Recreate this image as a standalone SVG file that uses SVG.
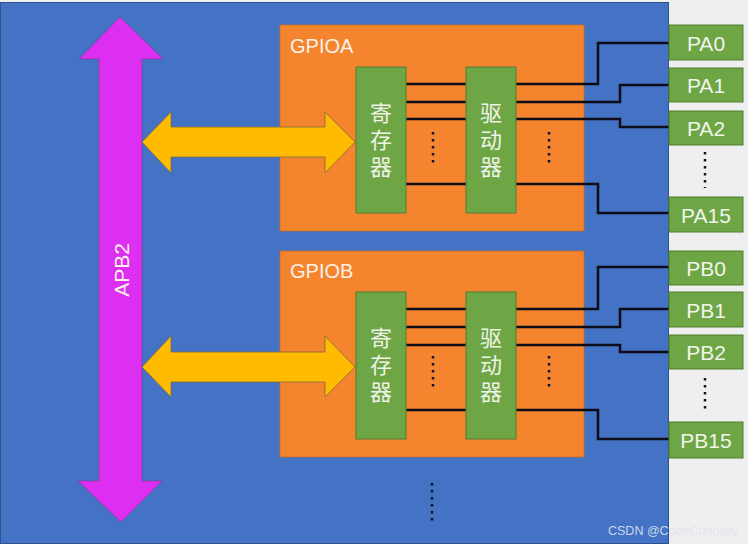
<svg xmlns="http://www.w3.org/2000/svg" width="748" height="544" viewBox="0 0 748 544">
<style>
.bg{fill:#4472c4;stroke:#2f528f;stroke-width:1}
.gpio{fill:#f4852e;stroke:#c96a20;stroke-width:0.8}
.blk{fill:#6ea545;stroke:#507e30;stroke-width:1}
.pin{fill:#6ea545;stroke:#507e30;stroke-width:1}
.t{font-family:"Liberation Sans","Noto Sans",sans-serif;fill:#fbf1e6}
.cj{font-family:"Noto Sans CJK SC",sans-serif;font-size:22px;fill:#eef3e8;text-anchor:middle;writing-mode:vertical-rl;letter-spacing:5px}
.pt{font-family:"Liberation Sans","Noto Sans",sans-serif;font-size:21px;fill:#f1f5ec;text-anchor:middle;dominant-baseline:central}
.w{fill:none;stroke:#0d0d1a;stroke-width:2.5}
.dot{fill:none;stroke:#10122a;stroke-width:2.5;stroke-dasharray:2.5 4.5}
.ya{fill:#ffbb00;stroke:#7f6a40;stroke-width:0.8}
.ma{fill:#dc2ff2;stroke:#8a3aa0;stroke-width:0.8}
</style>
<rect x="0" y="0" width="748" height="544" fill="#efefef"/>
<rect class="bg" x="0.5" y="2.5" width="668" height="541"/>

<g id="gpioa">
<rect class="gpio" x="280" y="25" width="304" height="206"/>
<text class="t" x="290" y="53" font-size="20">GPIOA</text>
</g>
<g id="gpiob">
<rect class="gpio" x="280" y="251" width="304" height="206"/>
<text class="t" x="290" y="278" font-size="20">GPIOB</text>
</g>

<g id="apb2">
<polygon class="ma" points="120,17 163,59 142,59 142,481 162,481 121,522 78,481 99,481 99,59 79,59"/>
<text class="t" x="0" y="0" font-size="21" text-anchor="middle" dominant-baseline="central" transform="translate(121 270) rotate(-90)">APB2</text>
</g>

<g id="connectors">
<polygon class="ya" points="142,142 171,112 171,127 325,127 325,112 355,142 325,173 325,157 171,157 171,173"/>
<polygon class="ya" points="142,367 171,336 171,352 325,352 325,336 355,367 325,397 325,382 171,382 171,397"/>
<path class="w" d="M406,84H466M406,102H466M406,119H466M406,184H466"/>
<path class="w" d="M516,84H598V43H669M516,102H620V85H669M516,119H620V127H669M516,184H598V213H669"/>
<path class="w" d="M406,309H466M406,327H466M406,345H466M406,410H466"/>
<path class="w" d="M516,309H598V267H669M516,327H620V309H669M516,345H620V352H669M516,410H598V439H669"/>
<path class="dot" d="M433,132V166M549,132V166M433,356V390M549,356V390M705,152V188M705,378V412M432,483V522"/>
</g>

<g id="regA">
<rect class="blk" x="356" y="67" width="50" height="146"/>
<text class="cj" x="381" y="142">寄存器</text>
</g>
<g id="drvA">
<rect class="blk" x="466" y="67" width="50" height="146"/>
<text class="cj" x="491" y="142">驱动器</text>
</g>
<g id="regB">
<rect class="blk" x="356" y="292" width="50" height="147"/>
<text class="cj" x="381" y="367">寄存器</text>
</g>
<g id="drvB">
<rect class="blk" x="466" y="292" width="50" height="147"/>
<text class="cj" x="491" y="367">驱动器</text>
</g>

<g id="PA0"><rect class="pin" x="669" y="25" width="74" height="35"/><text class="pt" x="706" y="43">PA0</text></g>
<g id="PA1"><rect class="pin" x="669" y="68" width="74" height="34"/><text class="pt" x="706" y="85">PA1</text></g>
<g id="PA2"><rect class="pin" x="669" y="111" width="74" height="34"/><text class="pt" x="706" y="128">PA2</text></g>
<g id="PA15"><rect class="pin" x="669" y="197" width="74" height="35"/><text class="pt" x="706" y="215">PA15</text></g>
<g id="PB0"><rect class="pin" x="669" y="251" width="74" height="34"/><text class="pt" x="706" y="268">PB0</text></g>
<g id="PB1"><rect class="pin" x="669" y="292" width="74" height="35"/><text class="pt" x="706" y="310">PB1</text></g>
<g id="PB2"><rect class="pin" x="669" y="335" width="74" height="34"/><text class="pt" x="706" y="352">PB2</text></g>
<g id="PB15"><rect class="pin" x="669" y="422" width="74" height="36"/><text class="pt" x="706" y="440">PB15</text></g>

<text x="608" y="535" font-family="Liberation Sans,sans-serif" font-size="12.5" fill="#dfe4ee" fill-opacity="0.9">CSDN @CodeCuriosity</text>
</svg>
